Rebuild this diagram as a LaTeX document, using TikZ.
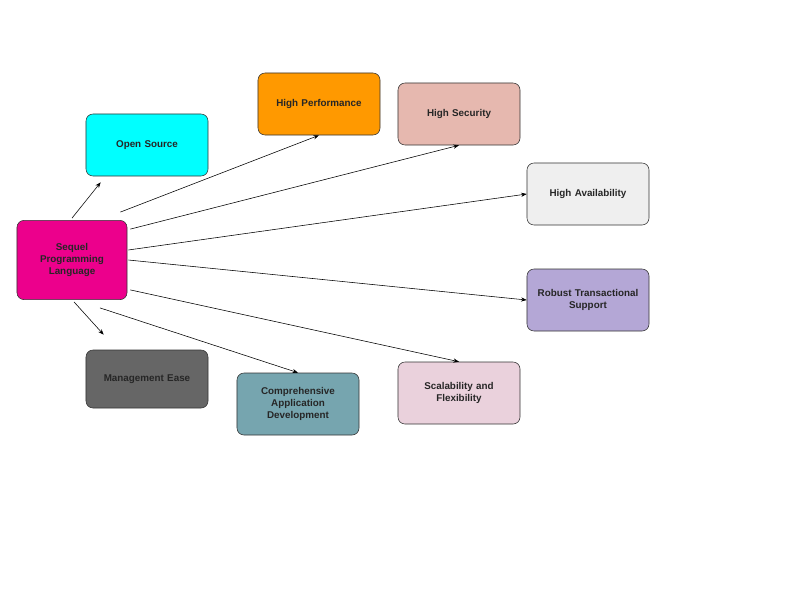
\documentclass[tikz,border=0pt]{standalone}
\usepackage{fontspec}
\setmainfont{Liberation Sans}
\usetikzlibrary{calc,arrows.meta}
\definecolor{cOS}{HTML}{00FFFF}
\definecolor{cHP}{HTML}{FF9900}
\definecolor{cHS}{HTML}{E6B8AF}
\definecolor{cHA}{HTML}{EFEFEF}
\definecolor{cRB}{HTML}{B4A7D6}
\definecolor{cSC}{HTML}{EAD1DC}
\definecolor{cCM}{HTML}{76A5AF}
\definecolor{cMG}{HTML}{666666}
\tikzset{
  box/.style={draw=black!80, rounded corners=5pt, minimum width=3.05cm, minimum height=1.55cm,
    align=center, text width=2.8cm, font=\fontsize{7}{8.5}\selectfont\bfseries, text=black!85},
  link/.style={-{Stealth[length=4pt,width=3pt]}, thin}
}
\begin{document}
\begin{tikzpicture}[x=0.025cm,y=-0.025cm]

\useasboundingbox (0,0) rectangle (800,600);

\node[box, fill=magenta, minimum width=2.75cm, minimum height=1.98cm, text width=2.5cm] (seq) at (72,260) {Sequel\\Programming\\Language};
\node[box, fill=cOS] (os) at (147,145) {Open Source};
\node[box, fill=cHP] (hp) at (319,104) {High Performance};
\node[box, fill=cHS] (hs) at (459,114) {High Security};
\node[box, fill=cHA] (ha) at (588,194) {High Availability};
\node[box, fill=cRB] (rb) at (588,300) {Robust Transactional\\Support};
\node[box, fill=cSC] (sc) at (459,393) {Scalability and\\Flexibility};
\node[box, fill=cCM] (cm) at (298,404) {Comprehensive\\Application\\Development};
\node[box, fill=cMG, minimum height=1.45cm] (mg) at (147,379) {Management Ease};

\draw[link] ($(seq.north)+(0,-2)$) -- ($(os.south west)+(15,6)$);
\draw[link] ($(seq.north east)+(-7,-8)$) -- (hp.south);
\draw[link] ($(seq.north east)+(3,9)$) -- (hs.south);
\draw[link] ($(seq.east)+(1,-10)$) -- (ha.west);
\draw[link] ($(seq.east)+(1,0)$) -- (rb.west);
\draw[link] ($(seq.south east)+(3,-10)$) -- (sc.north);
\draw[link] ($(seq.south)+(28,8)$) -- (cm.north);
\draw[link] ($(seq.south)+(2,2)$) -- ($(mg.north west)+(18,-15)$);

\end{tikzpicture}
\end{document}
